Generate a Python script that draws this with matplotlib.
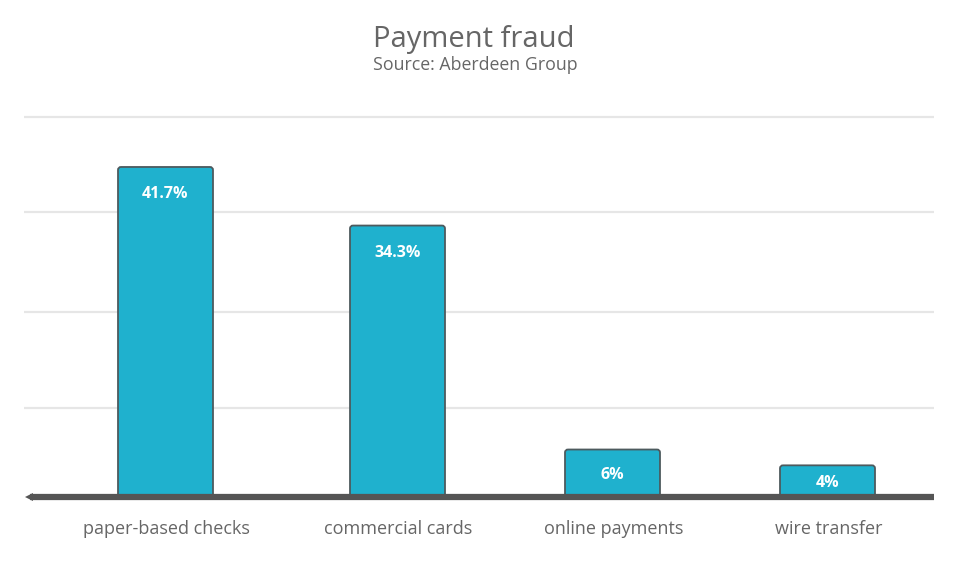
import numpy as np
import matplotlib.pyplot as plt
from matplotlib.patches import FancyBboxPatch

# data
categories = ['paper-based checks', 'commercial cards', 'online payments', 'wire transfer']
values = [41.7, 34.3, 6, 4]
labels = ['41.7%', '34.3%', '6%', '4%']

plt.rcParams['font.family'] = ['Open Sans', 'DejaVu Sans']

BAR = '#1fb1ce'
EDGE = '#4d5a5e'
GREY = '#666666'

fig = plt.figure(figsize=(9.6, 5.78), dpi=100)
# axes spans pixel x 24..934, y 110..497
ax = fig.add_axes([24/960, (578-497)/578, 910/960, 387/578])

xpos = [165.5, 397.5, 612.5, 827.5]
width = 95
ytop = 48.9
ppu = 387 / ytop  # pixels per unit in y

ax.set_xlim(24, 934)
ax.set_ylim(0, ytop)

for y in [11.25, 23.4, 36, 48]:
    ax.axhline(y, color='#e6e6e6', lw=1.6, zorder=0)

for x, v, lab in zip(xpos, values, labels):
    p = FancyBboxPatch((x - width/2, 0), width, v,
                       boxstyle='round,pad=0,rounding_size=3',
                       mutation_aspect=1/ppu,
                       fc=BAR, ec=EDGE, lw=1.3, zorder=2)
    ax.add_patch(p)
    ly = max(v - 27/ppu, v/2 - 2/ppu)
    ax.text(x, ly, lab, ha='center', va='center', color='white',
            fontsize=11.5, fontweight='bold', zorder=4)

# baseline with a pointed left end
ax.plot([30, 934], [0, 0], color='#555555', lw=4.5, solid_capstyle='butt',
        zorder=3, clip_on=False)
ax.plot([29], [0], marker='<', color='#555555', ms=5.5, mew=0,
        zorder=3, clip_on=False)

for x, c in zip(xpos, categories):
    ax.text(x + 1, -32/ppu, c, ha='center', va='center', color=GREY,
            fontsize=13)

for s in ax.spines.values():
    s.set_visible(False)
ax.set_xticks([])
ax.set_yticks([])

fig.text(474/960, 1 - 40/578, 'Payment fraud', ha='center', va='center',
         color=GREY, fontsize=21)
fig.text(475/960, 1 - 65/578, 'Source: Aberdeen Group', ha='center',
         va='center', color=GREY, fontsize=12.8)

fig.savefig('out.png', dpi=100, facecolor='white')
